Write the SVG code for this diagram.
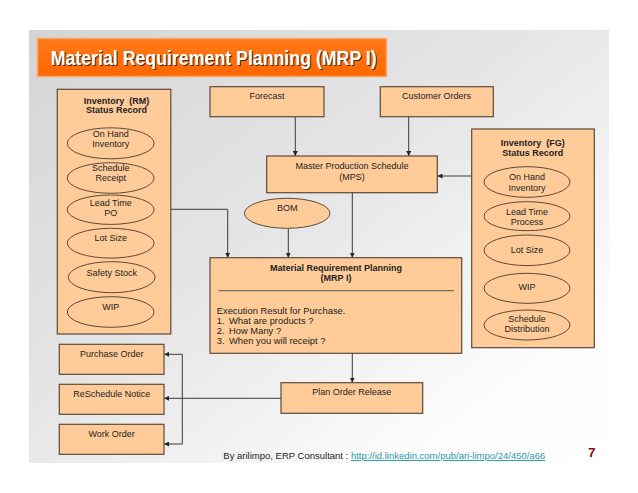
<svg xmlns="http://www.w3.org/2000/svg" width="638" height="493" viewBox="0 0 638 493">
<defs>
<linearGradient id="bg" x1="0" y1="0" x2="1" y2="1">
<stop offset="0" stop-color="#d4d4d4"/>
<stop offset="0.45" stop-color="#e6e6e6"/>
<stop offset="0.8" stop-color="#fbfbfb"/>
<stop offset="1" stop-color="#ffffff"/>
</linearGradient>
<linearGradient id="tbar" x1="0" y1="0" x2="0" y2="1">
<stop offset="0" stop-color="#ff7a1a"/>
<stop offset="1" stop-color="#ff6600"/>
</linearGradient>
<marker id="arr" viewBox="0 0 10 10" refX="10" refY="5" markerWidth="5" markerHeight="5" markerUnits="userSpaceOnUse" orient="auto">
<path d="M0,0 L10,5 L0,10 z" fill="#222"/>
</marker>
<style>
.box{fill:#ffcc99;stroke:#5c4a3c;stroke-width:1.2}
.ell{fill:#ffcc99;stroke:#5c4a3c;stroke-width:1}
.t{font-family:"Liberation Sans",Arial,sans-serif;font-size:9px;fill:#222;text-anchor:middle}
.b{font-weight:bold}
.l{text-anchor:start;font-size:9.4px}
.c{fill:none;stroke:#3a3a3a;stroke-width:1}
.ca{fill:none;stroke:#3a3a3a;stroke-width:1;marker-end:url(#arr)}
</style>
</defs>
<rect x="0" y="0" width="638" height="493" fill="#ffffff"/>
<rect x="29" y="30" width="580" height="433" fill="url(#bg)"/>

<g id="title">
<rect x="37.5" y="38.5" width="349" height="38" fill="url(#tbar)" stroke="#f7a868" stroke-width="1.5"/>
<text x="51.7" y="66" textLength="326" lengthAdjust="spacingAndGlyphs" style="font-family:'Liberation Sans',Arial,sans-serif;font-size:20px;font-weight:bold" fill="#4a2a10">Material Requirement Planning (MRP I)</text>
<text x="50.7" y="65" textLength="326" lengthAdjust="spacingAndGlyphs" style="font-family:'Liberation Sans',Arial,sans-serif;font-size:20px;font-weight:bold" fill="#ffffff">Material Requirement Planning (MRP I)</text>
</g>

<g id="connectors">
<line class="ca" x1="295.3" y1="116.7" x2="295.3" y2="156"/>
<line class="ca" x1="408.7" y1="116.7" x2="408.7" y2="156"/>
<line class="ca" x1="471.7" y1="176" x2="437.5" y2="176"/>
<line class="ca" x1="352.3" y1="192.7" x2="352.3" y2="257.7"/>
<line class="ca" x1="288.3" y1="228.3" x2="288.3" y2="257.7"/>
<path class="ca" d="M171,209.3 H227.7 V257.7"/>
<line class="ca" x1="352.3" y1="353.3" x2="352.3" y2="382.7"/>
<line class="ca" x1="281" y1="398.3" x2="164.2" y2="398.3"/>
<line class="c" x1="182.3" y1="354.3" x2="182.3" y2="444"/>
<line class="ca" x1="182.3" y1="354.3" x2="164.2" y2="354.3"/>
<line class="ca" x1="182.3" y1="444" x2="164.2" y2="444"/>
</g>

<g id="inv-rm">
<rect class="box" x="57.3" y="89.3" width="113.5" height="244.7"/>
<text class="t b" x="116.5" y="103.5" xml:space="preserve">Inventory  (RM)</text>
<text class="t b" x="116.5" y="113">Status Record</text>
</g>
<g id="rm-onhand">
<ellipse class="ell" cx="110.7" cy="143.3" rx="43.4" ry="15.5"/>
<text class="t" x="110.7" y="136.5">On Hand</text>
<text class="t" x="110.7" y="146.5">Inventory</text>
</g>
<g id="rm-schedule">
<ellipse class="ell" cx="110.7" cy="178" rx="43.4" ry="15.3"/>
<text class="t" x="110.7" y="170.5">Schedule</text>
<text class="t" x="110.7" y="181">Receipt</text>
</g>
<g id="rm-leadtime">
<ellipse class="ell" cx="110.7" cy="209.7" rx="43.4" ry="14.7"/>
<text class="t" x="110.7" y="206">Lead Time</text>
<text class="t" x="110.7" y="216">PO</text>
</g>
<g id="rm-lotsize">
<ellipse class="ell" cx="110.7" cy="243.2" rx="43.4" ry="14.9"/>
<text class="t" x="110.7" y="241.3">Lot Size</text>
</g>
<g id="rm-safety">
<ellipse class="ell" cx="111.7" cy="277.2" rx="43.4" ry="15.5"/>
<text class="t" x="111.7" y="275.5">Safety Stock</text>
</g>
<g id="rm-wip">
<ellipse class="ell" cx="110.7" cy="312" rx="43.4" ry="15.3"/>
<text class="t" x="110.7" y="310">WIP</text>
</g>

<g id="purchase-order">
<rect class="box" x="59.3" y="344.3" width="104.7" height="30"/>
<text class="t" x="111.7" y="356.5">Purchase Order</text>
</g>
<g id="reschedule-notice">
<rect class="box" x="59.3" y="384.3" width="104.7" height="30"/>
<text class="t" x="111.7" y="396.5">ReSchedule Notice</text>
</g>
<g id="work-order">
<rect class="box" x="59.3" y="424.3" width="104.7" height="30"/>
<text class="t" x="111.7" y="436.5">Work Order</text>
</g>

<g id="forecast">
<rect class="box" x="210" y="86.7" width="114" height="30"/>
<text class="t" x="267" y="98.8">Forecast</text>
</g>
<g id="customer-orders">
<rect class="box" x="380.3" y="86.7" width="113" height="30"/>
<text class="t" x="436.5" y="98.8">Customer Orders</text>
</g>
<g id="mps">
<rect class="box" x="266.7" y="156" width="170.6" height="36.7"/>
<text class="t" x="352" y="168.8">Master Production Schedule</text>
<text class="t" x="352" y="179.8">(MPS)</text>
</g>
<g id="bom">
<ellipse class="ell" cx="287.2" cy="213.3" rx="42.8" ry="15"/>
<text class="t" x="287.2" y="210.8">BOM</text>
</g>

<g id="mrp">
<rect class="box" x="210" y="257.7" width="251.7" height="95.6"/>
<text class="t b" x="336" y="270.5">Material Requirement Planning</text>
<text class="t b" x="336" y="280.5">(MRP I)</text>
<line x1="218.3" y1="290.7" x2="454" y2="290.7" stroke="#555" stroke-width="1"/>
<text class="t l" x="216.7" y="313.8">Execution Result for Purchase.</text>
<text class="t l" x="216.7" y="323.8">1.</text>
<text class="t l" x="229" y="323.8">What are products ?</text>
<text class="t l" x="216.7" y="333.6">2.</text>
<text class="t l" x="229" y="333.6">How Many ?</text>
<text class="t l" x="216.7" y="343.8">3.</text>
<text class="t l" x="229" y="343.8">When you will receipt ?</text>
</g>

<g id="plan-order-release">
<rect class="box" x="281" y="382.7" width="141.7" height="30.6"/>
<text class="t" x="351.8" y="395">Plan Order Release</text>
</g>

<g id="inv-fg">
<rect class="box" x="471.7" y="129" width="122.6" height="218.7"/>
<text class="t b" x="532.7" y="145.5" xml:space="preserve">Inventory  (FG)</text>
<text class="t b" x="532.7" y="155.5">Status Record</text>
</g>
<g id="fg-onhand">
<ellipse class="ell" cx="527" cy="182" rx="43" ry="15.3"/>
<text class="t" x="527" y="179.8">On Hand</text>
<text class="t" x="527" y="190.8">Inventory</text>
</g>
<g id="fg-leadtime">
<ellipse class="ell" cx="527" cy="216.2" rx="43" ry="14.5"/>
<text class="t" x="527" y="214.8">Lead Time</text>
<text class="t" x="527" y="224.8">Process</text>
</g>
<g id="fg-lotsize">
<ellipse class="ell" cx="527" cy="250.3" rx="43" ry="15.3"/>
<text class="t" x="527" y="253">Lot Size</text>
</g>
<g id="fg-wip">
<ellipse class="ell" cx="527" cy="288.3" rx="43" ry="15"/>
<text class="t" x="527" y="290">WIP</text>
</g>
<g id="fg-schedule">
<ellipse class="ell" cx="527" cy="325" rx="43" ry="15"/>
<text class="t" x="527" y="321.5">Schedule</text>
<text class="t" x="527" y="331.5">Distribution</text>
</g>

<g id="footer">
<text x="223.3" y="459" style="font-family:'Liberation Sans',Arial,sans-serif;font-size:9.5px" fill="#222">By arilimpo, ERP Consultant : <tspan fill="#2a9aa8" text-decoration="underline">http://id.linkedin.com/pub/ari-limpo/24/450/a66</tspan></text>
<text x="588" y="457" style="font-family:'Liberation Sans',Arial,sans-serif;font-size:13.5px;font-weight:bold" fill="#8b1010">7</text>
</g>
</svg>
